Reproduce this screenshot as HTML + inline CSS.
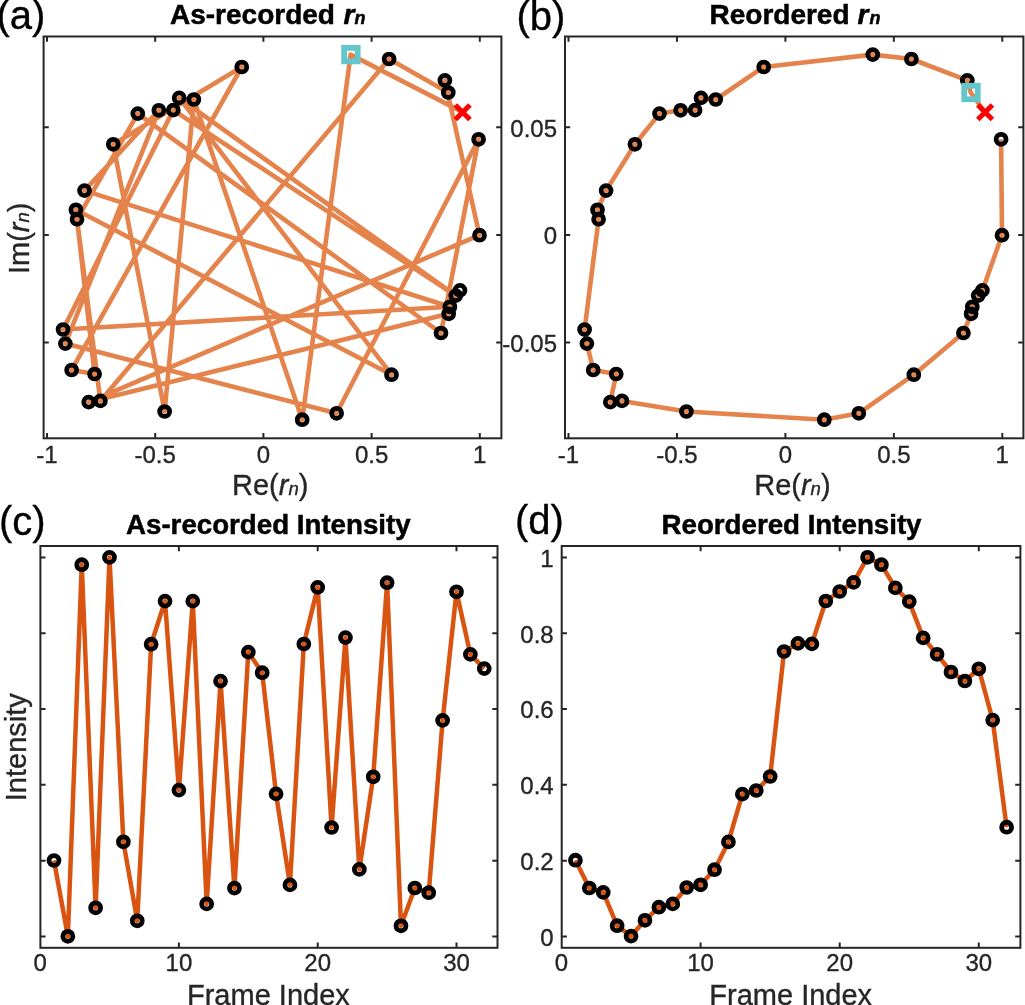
<!DOCTYPE html>
<html><head><meta charset="utf-8"><style>
html,body{margin:0;padding:0;background:#fff;width:1025px;height:1005px;overflow:hidden}
svg{display:block;will-change:transform;font-family:"Liberation Sans",sans-serif}
</style></head><body>
<svg width="1025" height="1005" viewBox="0 0 1025 1005">
<polyline points="462.24,111.9 350.6,54.6 302.21,419.7 193.86,99.5 164.63,411.5 113.25,144.3 241.75,67 71.64,370 94.59,374 75.93,209.8 391.5,374.7 179.19,97.9 455.76,295.6 173.31,110.1 63.06,329.5 449.87,306.8 84.51,190.6 158.84,110.3 65.36,343.6 336.63,413.3 478.6,139.3 440.99,333 137.79,113.6 77.03,219.2 100.38,400.9 389.11,59 448.27,92.5 444.88,80.4 479.5,235.2 88.7,402.1 448.67,313.8 459.95,290.4" fill="none" stroke="#E4844C" stroke-width="4.6" stroke-linejoin="round" stroke-linecap="butt"/>
<g fill="none" stroke="#000" stroke-width="4.8"><circle cx="302.21" cy="419.7" r="4.97"/><circle cx="193.86" cy="99.5" r="4.97"/><circle cx="164.63" cy="411.5" r="4.97"/><circle cx="113.25" cy="144.3" r="4.97"/><circle cx="241.75" cy="67" r="4.97"/><circle cx="71.64" cy="370" r="4.97"/><circle cx="94.59" cy="374" r="4.97"/><circle cx="75.93" cy="209.8" r="4.97"/><circle cx="391.5" cy="374.7" r="4.97"/><circle cx="179.19" cy="97.9" r="4.97"/><circle cx="455.76" cy="295.6" r="4.97"/><circle cx="173.31" cy="110.1" r="4.97"/><circle cx="63.06" cy="329.5" r="4.97"/><circle cx="449.87" cy="306.8" r="4.97"/><circle cx="84.51" cy="190.6" r="4.97"/><circle cx="158.84" cy="110.3" r="4.97"/><circle cx="65.36" cy="343.6" r="4.97"/><circle cx="336.63" cy="413.3" r="4.97"/><circle cx="478.6" cy="139.3" r="4.97"/><circle cx="440.99" cy="333" r="4.97"/><circle cx="137.79" cy="113.6" r="4.97"/><circle cx="77.03" cy="219.2" r="4.97"/><circle cx="100.38" cy="400.9" r="4.97"/><circle cx="389.11" cy="59" r="4.97"/><circle cx="448.27" cy="92.5" r="4.97"/><circle cx="444.88" cy="80.4" r="4.97"/><circle cx="479.5" cy="235.2" r="4.97"/><circle cx="88.7" cy="402.1" r="4.97"/><circle cx="448.67" cy="313.8" r="4.97"/><circle cx="459.95" cy="290.4" r="4.97"/></g>
<rect x="344.15" y="47.85" width="13.5" height="13.5" fill="none" stroke="#62C6CA" stroke-width="5.8"/>
<path d="M455.34 105L469.94 119.6M455.34 119.6L469.94 105" stroke="#FF0000" stroke-width="5" fill="none"/>
<rect x="43.6" y="36.5" width="457.8" height="401.8" fill="none" stroke="#262626" stroke-width="2"/>
<path d="M47 438.3V433.1M47 36.5V41.7M155.2 438.3V433.1M155.2 36.5V41.7M263.4 438.3V433.1M263.4 36.5V41.7M371.6 438.3V433.1M371.6 36.5V41.7M479.8 438.3V433.1M479.8 36.5V41.7M43.6 127.35H48.8M501.4 127.35H496.2M43.6 234.9H48.8M501.4 234.9H496.2M43.6 342.45H48.8M501.4 342.45H496.2" stroke="#262626" stroke-width="2" fill="none"/>
<text x="47" y="463" font-size="24" text-anchor="middle" font-weight="normal" fill="#262626" stroke="#262626" stroke-width="0.35">-1</text>
<text x="155.2" y="463" font-size="24" text-anchor="middle" font-weight="normal" fill="#262626" stroke="#262626" stroke-width="0.35">-0.5</text>
<text x="263.4" y="463" font-size="24" text-anchor="middle" font-weight="normal" fill="#262626" stroke="#262626" stroke-width="0.35">0</text>
<text x="371.6" y="463" font-size="24" text-anchor="middle" font-weight="normal" fill="#262626" stroke="#262626" stroke-width="0.35">0.5</text>
<text x="479.8" y="463" font-size="24" text-anchor="middle" font-weight="normal" fill="#262626" stroke="#262626" stroke-width="0.35">1</text>
<polyline points="984.7,111.9 970.7,92.5 967.3,80.4 911.4,59 872.8,54.6 763.7,67 715.7,99.5 701,97.9 695.1,110.1 680.6,110.3 659.5,113.6 634.9,144.3 606.1,190.6 597.5,209.8 598.6,219.2 584.6,329.5 586.9,343.6 593.2,370 616.2,374 610.3,402.1 622,400.9 686.4,411.5 824.3,419.7 858.8,413.3 913.8,374.7 963.4,333 971.1,313.8 972.3,306.8 978.2,295.6 982.4,290.4 1002,235.2 1001.1,139.3" fill="none" stroke="#E4844C" stroke-width="4.6" stroke-linejoin="round" stroke-linecap="butt"/>
<g fill="none" stroke="#000" stroke-width="4.8"><circle cx="967.3" cy="80.4" r="4.97"/><circle cx="911.4" cy="59" r="4.97"/><circle cx="872.8" cy="54.6" r="4.97"/><circle cx="763.7" cy="67" r="4.97"/><circle cx="715.7" cy="99.5" r="4.97"/><circle cx="701" cy="97.9" r="4.97"/><circle cx="695.1" cy="110.1" r="4.97"/><circle cx="680.6" cy="110.3" r="4.97"/><circle cx="659.5" cy="113.6" r="4.97"/><circle cx="634.9" cy="144.3" r="4.97"/><circle cx="606.1" cy="190.6" r="4.97"/><circle cx="597.5" cy="209.8" r="4.97"/><circle cx="598.6" cy="219.2" r="4.97"/><circle cx="584.6" cy="329.5" r="4.97"/><circle cx="586.9" cy="343.6" r="4.97"/><circle cx="593.2" cy="370" r="4.97"/><circle cx="616.2" cy="374" r="4.97"/><circle cx="610.3" cy="402.1" r="4.97"/><circle cx="622" cy="400.9" r="4.97"/><circle cx="686.4" cy="411.5" r="4.97"/><circle cx="824.3" cy="419.7" r="4.97"/><circle cx="858.8" cy="413.3" r="4.97"/><circle cx="913.8" cy="374.7" r="4.97"/><circle cx="963.4" cy="333" r="4.97"/><circle cx="971.1" cy="313.8" r="4.97"/><circle cx="972.3" cy="306.8" r="4.97"/><circle cx="978.2" cy="295.6" r="4.97"/><circle cx="982.4" cy="290.4" r="4.97"/><circle cx="1002" cy="235.2" r="4.97"/><circle cx="1001.1" cy="139.3" r="4.97"/></g>
<rect x="964.25" y="85.75" width="13.5" height="13.5" fill="none" stroke="#62C6CA" stroke-width="5.8"/>
<path d="M977.8 105L992.4 119.6M977.8 119.6L992.4 105" stroke="#FF0000" stroke-width="5" fill="none"/>
<rect x="565" y="36.5" width="458.4" height="401.8" fill="none" stroke="#262626" stroke-width="2"/>
<path d="M568.5 438.3V433.1M568.5 36.5V41.7M676.95 438.3V433.1M676.95 36.5V41.7M785.4 438.3V433.1M785.4 36.5V41.7M893.85 438.3V433.1M893.85 36.5V41.7M1002.3 438.3V433.1M1002.3 36.5V41.7M565 127.35H570.2M1023.4 127.35H1018.2M565 234.9H570.2M1023.4 234.9H1018.2M565 342.45H570.2M1023.4 342.45H1018.2" stroke="#262626" stroke-width="2" fill="none"/>
<text x="568.5" y="463" font-size="24" text-anchor="middle" font-weight="normal" fill="#262626" stroke="#262626" stroke-width="0.35">-1</text>
<text x="676.95" y="463" font-size="24" text-anchor="middle" font-weight="normal" fill="#262626" stroke="#262626" stroke-width="0.35">-0.5</text>
<text x="785.4" y="463" font-size="24" text-anchor="middle" font-weight="normal" fill="#262626" stroke="#262626" stroke-width="0.35">0</text>
<text x="893.85" y="463" font-size="24" text-anchor="middle" font-weight="normal" fill="#262626" stroke="#262626" stroke-width="0.35">0.5</text>
<text x="1002.3" y="463" font-size="24" text-anchor="middle" font-weight="normal" fill="#262626" stroke="#262626" stroke-width="0.35">1</text>
<text x="557" y="136.85" font-size="24" text-anchor="end" font-weight="normal" fill="#262626" stroke="#262626" stroke-width="0.35">0.05</text>
<text x="557" y="244.4" font-size="24" text-anchor="end" font-weight="normal" fill="#262626" stroke="#262626" stroke-width="0.35">0</text>
<text x="557" y="351.95" font-size="24" text-anchor="end" font-weight="normal" fill="#262626" stroke="#262626" stroke-width="0.35">-0.05</text>
<polyline points="53.98,860.5 67.86,936.3 81.74,564.7 95.62,907.8 109.5,557.4 123.38,841.8 137.26,920.8 151.14,644.2 165.02,601.1 178.9,790.1 192.78,601.1 206.66,903.9 220.54,681.1 234.42,888.1 248.3,652.1 262.18,672.7 276.06,793.9 289.94,884.9 303.82,644 317.7,587.4 331.58,827.5 345.46,637.6 359.34,869.4 373.22,776.8 387.1,582.7 400.98,925.8 414.86,888 428.74,892.7 442.62,720.4 456.5,591.8 470.38,654.4 484.26,668.6" fill="none" stroke="#D95410" stroke-width="4.5" stroke-linejoin="round" stroke-linecap="butt"/>
<g fill="none" stroke="#000" stroke-width="4.8"><circle cx="53.98" cy="860.5" r="4.97"/><circle cx="67.86" cy="936.3" r="4.97"/><circle cx="81.74" cy="564.7" r="4.97"/><circle cx="95.62" cy="907.8" r="4.97"/><circle cx="109.5" cy="557.4" r="4.97"/><circle cx="123.38" cy="841.8" r="4.97"/><circle cx="137.26" cy="920.8" r="4.97"/><circle cx="151.14" cy="644.2" r="4.97"/><circle cx="165.02" cy="601.1" r="4.97"/><circle cx="178.9" cy="790.1" r="4.97"/><circle cx="192.78" cy="601.1" r="4.97"/><circle cx="206.66" cy="903.9" r="4.97"/><circle cx="220.54" cy="681.1" r="4.97"/><circle cx="234.42" cy="888.1" r="4.97"/><circle cx="248.3" cy="652.1" r="4.97"/><circle cx="262.18" cy="672.7" r="4.97"/><circle cx="276.06" cy="793.9" r="4.97"/><circle cx="289.94" cy="884.9" r="4.97"/><circle cx="303.82" cy="644" r="4.97"/><circle cx="317.7" cy="587.4" r="4.97"/><circle cx="331.58" cy="827.5" r="4.97"/><circle cx="345.46" cy="637.6" r="4.97"/><circle cx="359.34" cy="869.4" r="4.97"/><circle cx="373.22" cy="776.8" r="4.97"/><circle cx="387.1" cy="582.7" r="4.97"/><circle cx="400.98" cy="925.8" r="4.97"/><circle cx="414.86" cy="888" r="4.97"/><circle cx="428.74" cy="892.7" r="4.97"/><circle cx="442.62" cy="720.4" r="4.97"/><circle cx="456.5" cy="591.8" r="4.97"/><circle cx="470.38" cy="654.4" r="4.97"/><circle cx="484.26" cy="668.6" r="4.97"/></g>
<rect x="40.4" y="546" width="457.1" height="401.8" fill="none" stroke="#262626" stroke-width="2"/>
<path d="M178.9 947.8V942.6M178.9 546V551.2M317.7 947.8V942.6M317.7 546V551.2M456.5 947.8V942.6M456.5 546V551.2M40.4 936.5H45.6M497.5 936.5H492.3M40.4 860.68H45.6M497.5 860.68H492.3M40.4 784.86H45.6M497.5 784.86H492.3M40.4 709.04H45.6M497.5 709.04H492.3M40.4 633.22H45.6M497.5 633.22H492.3M40.4 557.4H45.6M497.5 557.4H492.3" stroke="#262626" stroke-width="2" fill="none"/>
<text x="40.1" y="970.8" font-size="24" text-anchor="middle" font-weight="normal" fill="#262626" stroke="#262626" stroke-width="0.35">0</text>
<text x="178.9" y="970.8" font-size="24" text-anchor="middle" font-weight="normal" fill="#262626" stroke="#262626" stroke-width="0.35">10</text>
<text x="317.7" y="970.8" font-size="24" text-anchor="middle" font-weight="normal" fill="#262626" stroke="#262626" stroke-width="0.35">20</text>
<text x="456.5" y="970.8" font-size="24" text-anchor="middle" font-weight="normal" fill="#262626" stroke="#262626" stroke-width="0.35">30</text>
<polyline points="575.41,860.2 589.32,888 603.23,892.4 617.14,925.7 631.05,936.1 644.96,920.3 658.87,907.2 672.78,903.9 686.69,887.5 700.6,884.8 714.51,869.7 728.42,841.9 742.33,794.1 756.24,790.5 770.15,776.5 784.06,651.5 797.97,643.4 811.88,643.9 825.79,601 839.7,591.5 853.61,582.4 867.52,557.3 881.43,564.7 895.34,587.9 909.25,601.6 923.16,637.9 937.07,654.3 950.98,672 964.89,681 978.8,668.8 992.71,720.1 1006.62,827.2" fill="none" stroke="#D95410" stroke-width="4.5" stroke-linejoin="round" stroke-linecap="butt"/>
<g fill="none" stroke="#000" stroke-width="4.8"><circle cx="575.41" cy="860.2" r="4.97"/><circle cx="589.32" cy="888" r="4.97"/><circle cx="603.23" cy="892.4" r="4.97"/><circle cx="617.14" cy="925.7" r="4.97"/><circle cx="631.05" cy="936.1" r="4.97"/><circle cx="644.96" cy="920.3" r="4.97"/><circle cx="658.87" cy="907.2" r="4.97"/><circle cx="672.78" cy="903.9" r="4.97"/><circle cx="686.69" cy="887.5" r="4.97"/><circle cx="700.6" cy="884.8" r="4.97"/><circle cx="714.51" cy="869.7" r="4.97"/><circle cx="728.42" cy="841.9" r="4.97"/><circle cx="742.33" cy="794.1" r="4.97"/><circle cx="756.24" cy="790.5" r="4.97"/><circle cx="770.15" cy="776.5" r="4.97"/><circle cx="784.06" cy="651.5" r="4.97"/><circle cx="797.97" cy="643.4" r="4.97"/><circle cx="811.88" cy="643.9" r="4.97"/><circle cx="825.79" cy="601" r="4.97"/><circle cx="839.7" cy="591.5" r="4.97"/><circle cx="853.61" cy="582.4" r="4.97"/><circle cx="867.52" cy="557.3" r="4.97"/><circle cx="881.43" cy="564.7" r="4.97"/><circle cx="895.34" cy="587.9" r="4.97"/><circle cx="909.25" cy="601.6" r="4.97"/><circle cx="923.16" cy="637.9" r="4.97"/><circle cx="937.07" cy="654.3" r="4.97"/><circle cx="950.98" cy="672" r="4.97"/><circle cx="964.89" cy="681" r="4.97"/><circle cx="978.8" cy="668.8" r="4.97"/><circle cx="992.71" cy="720.1" r="4.97"/><circle cx="1006.62" cy="827.2" r="4.97"/></g>
<rect x="561.7" y="546" width="458.7" height="401.8" fill="none" stroke="#262626" stroke-width="2"/>
<path d="M700.6 947.8V942.6M700.6 546V551.2M839.7 947.8V942.6M839.7 546V551.2M978.8 947.8V942.6M978.8 546V551.2M561.7 936.5H566.9M1020.4 936.5H1015.2M561.7 860.68H566.9M1020.4 860.68H1015.2M561.7 784.86H566.9M1020.4 784.86H1015.2M561.7 709.04H566.9M1020.4 709.04H1015.2M561.7 633.22H566.9M1020.4 633.22H1015.2M561.7 557.4H566.9M1020.4 557.4H1015.2" stroke="#262626" stroke-width="2" fill="none"/>
<text x="561.5" y="970.8" font-size="24" text-anchor="middle" font-weight="normal" fill="#262626" stroke="#262626" stroke-width="0.35">0</text>
<text x="700.6" y="970.8" font-size="24" text-anchor="middle" font-weight="normal" fill="#262626" stroke="#262626" stroke-width="0.35">10</text>
<text x="839.7" y="970.8" font-size="24" text-anchor="middle" font-weight="normal" fill="#262626" stroke="#262626" stroke-width="0.35">20</text>
<text x="978.8" y="970.8" font-size="24" text-anchor="middle" font-weight="normal" fill="#262626" stroke="#262626" stroke-width="0.35">30</text>
<text x="553.7" y="945.9" font-size="24" text-anchor="end" font-weight="normal" fill="#262626" stroke="#262626" stroke-width="0.35">0</text>
<text x="553.7" y="870.08" font-size="24" text-anchor="end" font-weight="normal" fill="#262626" stroke="#262626" stroke-width="0.35">0.2</text>
<text x="553.7" y="794.26" font-size="24" text-anchor="end" font-weight="normal" fill="#262626" stroke="#262626" stroke-width="0.35">0.4</text>
<text x="553.7" y="718.44" font-size="24" text-anchor="end" font-weight="normal" fill="#262626" stroke="#262626" stroke-width="0.35">0.6</text>
<text x="553.7" y="642.62" font-size="24" text-anchor="end" font-weight="normal" fill="#262626" stroke="#262626" stroke-width="0.35">0.8</text>
<text x="553.7" y="566.8" font-size="24" text-anchor="end" font-weight="normal" fill="#262626" stroke="#262626" stroke-width="0.35">1</text>
<text x="-3.5" y="29.3" font-size="40" text-anchor="start" font-weight="normal" fill="#000" stroke="#000" stroke-width="0.35">(a)</text>
<text x="516.5" y="29.5" font-size="40" text-anchor="start" font-weight="normal" fill="#000" stroke="#000" stroke-width="0.35">(b)</text>
<text x="-1" y="534.8" font-size="40" text-anchor="start" font-weight="normal" fill="#000" stroke="#000" stroke-width="0.35">(c)</text>
<text x="515" y="534" font-size="40" text-anchor="start" font-weight="normal" fill="#000" stroke="#000" stroke-width="0.35">(d)</text>
<text y="24" font-size="28" font-weight="bold" fill="#000" stroke="#000" stroke-width="0.5"><tspan x="170">As-recorded</tspan><tspan x="343.5" font-style="italic">r</tspan><tspan x="354.5" font-style="italic" font-size="18">n</tspan></text>
<text y="24" font-size="28" font-weight="bold" fill="#000" stroke="#000" stroke-width="0.5"><tspan x="709.5">Reordered</tspan><tspan x="857.5" font-style="italic">r</tspan><tspan x="869.5" font-style="italic" font-size="18">n</tspan></text>
<text x="126" y="534.4" font-size="27.7" text-anchor="start" font-weight="bold" fill="#000" stroke="#000" stroke-width="0.5">As-recorded Intensity</text>
<text x="661.5" y="534.4" font-size="27.7" text-anchor="start" font-weight="bold" fill="#000" stroke="#000" stroke-width="0.5">Reordered Intensity</text>
<text y="494.5" font-size="29" fill="#262626" stroke="#262626" stroke-width="0.35"><tspan x="232">Re(</tspan><tspan font-style="italic">r</tspan><tspan font-style="italic" font-size="18.5">n</tspan><tspan>)</tspan></text>
<text y="494.8" font-size="29" fill="#262626" stroke="#262626" stroke-width="0.35"><tspan x="754.2">Re(</tspan><tspan font-style="italic">r</tspan><tspan font-style="italic" font-size="18.5">n</tspan><tspan>)</tspan></text>
<g transform="translate(29 274) rotate(-90)"><text y="0" font-size="29" fill="#262626" stroke="#262626" stroke-width="0.35"><tspan x="0">Im(</tspan><tspan font-style="italic">r</tspan><tspan font-style="italic" font-size="18.5">n</tspan><tspan>)</tspan></text></g>
<text x="187" y="1004.5" font-size="29" text-anchor="start" font-weight="normal" fill="#262626" stroke="#262626" stroke-width="0.35">Frame Index</text>
<text x="709.3" y="1004.5" font-size="29" text-anchor="start" font-weight="normal" fill="#262626" stroke="#262626" stroke-width="0.35">Frame Index</text>
<g transform="translate(26 801.2) rotate(-90)">
<text x="0" y="0" font-size="29" text-anchor="start" font-weight="normal" fill="#262626" stroke="#262626" stroke-width="0.35">Intensity</text>
</g>
</svg></body></html>
